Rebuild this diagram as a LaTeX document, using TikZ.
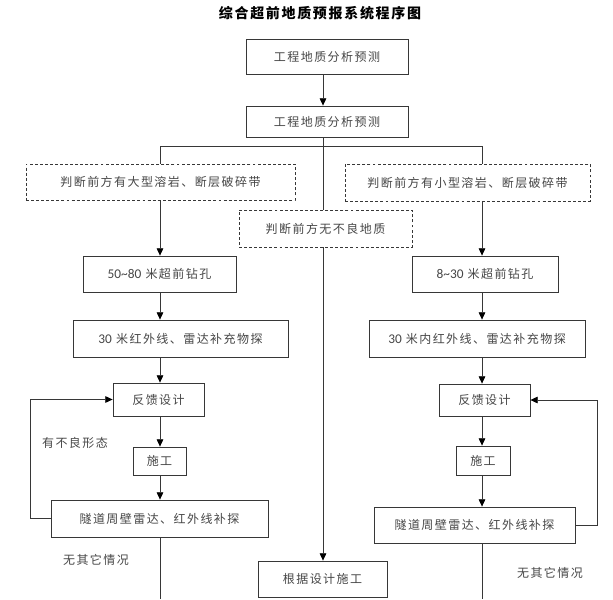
\documentclass[tikz,border=0pt]{standalone}
\usepackage{fontspec}
\setmainfont{Noto Sans CJK SC}[LetterSpace=12]
\newfontfamily\lat{Carlito}
\definecolor{linegray}{RGB}{55, 55, 55}
\definecolor{textgray}{RGB}{70, 70, 70}
\usetikzlibrary{arrows.meta}

\begin{document}
\begin{tikzpicture}[x = 0.75pt, y = -0.75pt, line width = 0.6pt,
	sz/.style 2 args = {minimum width = #1*0.75pt, minimum height = #2*0.75pt},
	box/.style = {draw = linegray, fill = white, text = textgray, inner sep = 0pt, font = \fontsize{9}{11}\selectfont},
	dbox/.style = {box, dash pattern = on 2.2pt off 1.6pt},
	note/.style = {text = textgray, inner sep = 0pt, font = \fontsize{9}{11}\selectfont},
	arr/.style = {-{Triangle[length = 5.5pt, width = 5pt, color = black]}}]
	\useasboundingbox (0, 0) rectangle (613, 599);
	\node[inner sep = 0pt, font = \fontsize{10.5}{12}\selectfont\bfseries] (title) at (320, 13) {综合超前地质预报系统程序图};
	\node[box, sz = {162}{35}] (b1) at (327, 56.5) {工程地质分析预测};
	\node[box, sz = {162}{31}] (b2) at (327, 121.5) {工程地质分析预测};
	\node[dbox, sz = {269}{36}] (dl) at (160.5, 182) {判断前方有大型溶岩、断层破碎带};
	\node[dbox, sz = {245}{37}] (dr) at (467.5, 182.5) {判断前方有小型溶岩、断层破碎带};
	\node[dbox, sz = {173}{37}] (dm) at (325.5, 228.5) {判断前方无不良地质};
	\node[box, sz = {153}{36}] (l1) at (159.5, 274) {{\lat\fontsize{10}{12}\selectfont 50\textasciitilde80} 米超前钻孔};
	\node[box, sz = {146}{36}] (r1) at (485, 274) {{\lat\fontsize{10}{12}\selectfont 8\textasciitilde30} 米超前钻孔};
	\node[box, sz = {215}{37}] (l2) at (180.5, 338.5) {{\lat\fontsize{10}{12}\selectfont 30} 米红外线、雷达补充物探};
	\node[box, sz = {216}{37}] (r2) at (477, 338.5) {{\lat\fontsize{10}{12}\selectfont 30} 米内红外线、雷达补充物探};
	\node[box, sz = {91}{33}] (l3) at (158.5, 399.5) {反馈设计};
	\node[box, sz = {91}{32}] (r3) at (484.5, 400) {反馈设计};
	\node[box, sz = {53}{28}] (l4) at (159.5, 461) {施工};
	\node[box, sz = {54}{29}] (r4) at (483, 460.5) {施工};
	\node[box, sz = {217}{37}] (l5) at (159.5, 518.5) {隧道周壁雷达、红外线补探};
	\node[box, sz = {201}{36}] (r5) at (474.5, 525) {隧道周壁雷达、红外线补探};
	\node[box, sz = {129}{36}] (fin) at (322.5, 579) {根据设计施工};
	\node[note] (bad) at (75, 443) {有不良形态};
	\node[note] (nol) at (96, 560) {无其它情况};
	\node[note] (nor) at (550, 573) {无其它情况};
	\coordinate (cx) at (323, 0);
	\coordinate (lx) at (160, 0);
	\coordinate (rx) at (482, 0);
	\coordinate (split) at (323, 146);
	\coordinate (lloop) at (30, 0);
	\coordinate (rloop) at (597, 0);
	\coordinate (bot) at (0, 599);
	\draw[linegray, arr] (b1.south -| cx) -- (b2.north -| cx);
	\draw[linegray] (b2.south -| cx) -- (dm.north -| cx);
	\draw[linegray, arr] (dm.south -| cx) -- (fin.north -| cx);
	\draw[linegray] (dl.north -| lx) -- (lx |- split) -- (rx |- split) -- (dr.north -| rx);
	\draw[linegray, arr] (dl.south -| lx) -- (l1.north -| lx);
	\draw[linegray, arr] (l1.south -| lx) -- (l2.north -| lx);
	\draw[linegray, arr] (l2.south -| lx) -- (l3.north -| lx);
	\draw[linegray, arr] (l3.south -| lx) -- (l4.north -| lx);
	\draw[linegray, arr] (l4.south -| lx) -- (l5.north -| lx);
	\draw[linegray] (l5.south -| lx) -- (lx |- bot);
	\draw[linegray, arr] (dr.south -| rx) -- (r1.north -| rx);
	\draw[linegray, arr] (r1.south -| rx) -- (r2.north -| rx);
	\draw[linegray, arr] (r2.south -| rx) -- (r3.north -| rx);
	\draw[linegray, arr] (r3.south -| rx) -- (r4.north -| rx);
	\draw[linegray, arr] (r4.south -| rx) -- (r5.north -| rx);
	\draw[linegray] (r5.south -| rx) -- (rx |- bot);
	\draw[linegray, arr] (l5.west) -- (l5.west -| lloop) |- (l3.west);
	\draw[linegray, arr] (r5.east) -- (r5.east -| rloop) |- (r3.east);
\end{tikzpicture}
\end{document}
